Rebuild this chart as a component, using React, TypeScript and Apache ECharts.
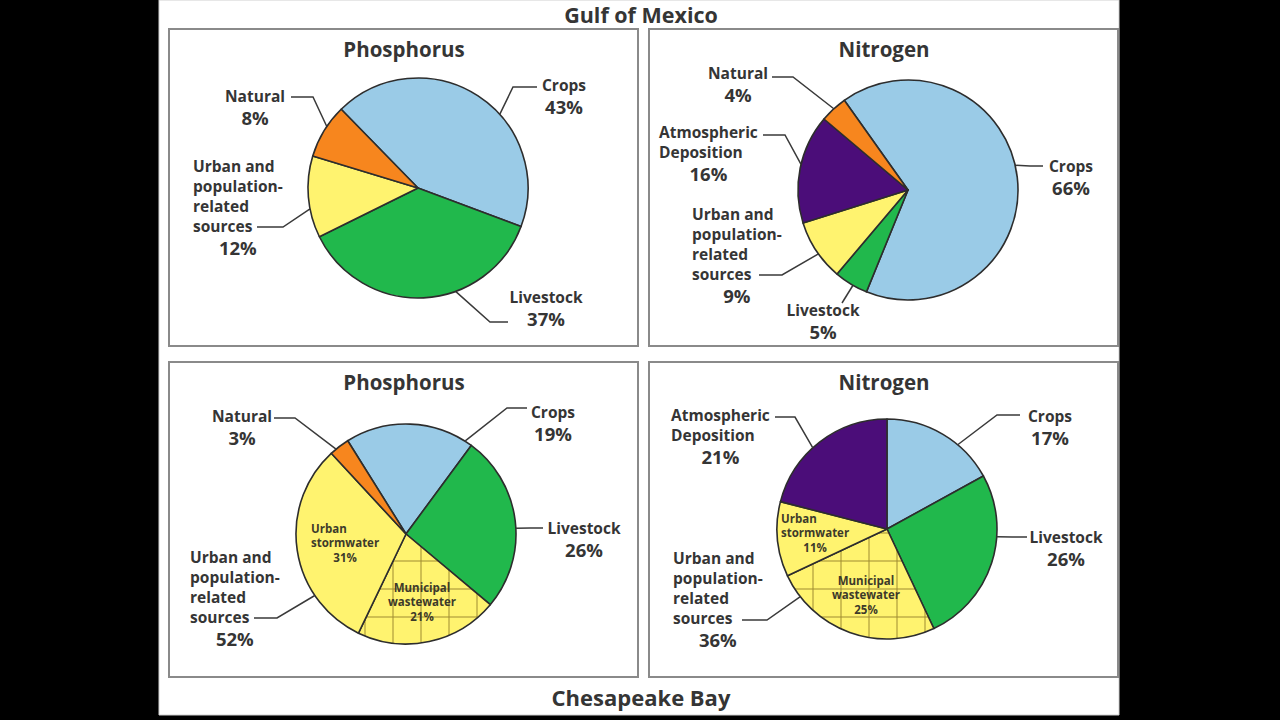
import React, { useEffect, useRef } from "react";
import * as echarts from "echarts";

// ---------- DATA ----------
const gulfPNames = ["Crops", "Livestock", "Urban and\npopulation-\nrelated\nsources", "Natural"];
const gulfPValues = [43, 37, 12, 8];

const gulfNNames = ["Crops", "Livestock", "Urban and\npopulation-\nrelated\nsources", "Atmospheric\nDeposition", "Natural"];
const gulfNValues = [66, 5, 9, 16, 4];

const chesPNames = ["Crops", "Livestock", "Municipal\nwastewater", "Urban\nstormwater", "Natural"];
const chesPValues = [19, 26, 21, 31, 3];
const chesPGroupNames = ["Crops", "Livestock", "Urban and\npopulation-\nrelated\nsources", "Natural"];
const chesPGroupValues = [19, 26, 52, 3];

const chesNNames = ["Crops", "Livestock", "Municipal\nwastewater", "Urban\nstormwater", "Atmospheric\nDeposition"];
const chesNValues = [17, 26, 25, 11, 21];
const chesNGroupNames = ["Crops", "Livestock", "Urban and\npopulation-\nrelated\nsources", "Atmospheric\nDeposition"];
const chesNGroupValues = [17, 26, 36, 21];

const regionTitles = ["Gulf of Mexico", "Chesapeake Bay"];
const panelTitles = ["Phosphorus", "Nitrogen", "Phosphorus", "Nitrogen"];

// ---------- STYLE ----------
const C_CROPS = "#9acbe7";
const C_LIVE = "#21b84c";
const C_URBAN = "#fff36f";
const C_NAT = "#f7861e";
const C_ATM = "#4b0d79";
const TXT = "#353535";
const FONT = "'Open Sans', 'DejaVu Sans', sans-serif";

type Lab = { x: number; y: number; a: "l" | "c"; line?: [number, number[], number[]] };

const pie1 = {
  center: [418, 188], r: 110, start: 134.3,
  labels: [
    { x: 564, y: 75, a: "c", line: [48, [513, 87], [537, 87]] },
    { x: 546, y: 287, a: "c", line: [160, [490, 322], [508, 322]] },
    { x: 193, y: 156, a: "l", line: [259, [283, 227], [257, 227]] },
    { x: 255, y: 86, a: "c", line: [304, [313, 97], [291, 97]] },
  ] as Lab[],
};
const pie2 = {
  center: [908, 190], r: 110, start: 125.4,
  labels: [
    { x: 1071, y: 156, a: "c", line: [77, [1030, 166], [1043, 166]] },
    { x: 823, y: 300, a: "c", line: [210, [842, 303], [842, 303]] },
    { x: 692, y: 204, a: "l", line: [234.5, [782, 275], [759, 275]] },
    { x: 659, y: 122, a: "l", line: [283.5, [785, 135], [763, 135]] },
    { x: 738, y: 63, a: "c", line: [317.6, [793, 77], [772, 77]] },
  ] as Lab[],
};
const pie3 = {
  center: [406, 534], r: 110, start: 122,
  inner: [null, null, { x: 422, y: 580, a: "c" }, { x: 311, y: 521, a: "l" }, null] as (Lab | null)[],
  labels: [
    { x: 553, y: 402, a: "c", line: [32.4, [507, 408], [527, 408]] },
    { x: 584, y: 518, a: "c", line: [87, [530, 528], [543, 528]] },
    { x: 190, y: 547, a: "l", line: [236, [277, 618], [254, 618]] },
    { x: 242, y: 406, a: "c", line: [320.5, [295, 418], [274, 418]] },
  ] as Lab[],
};
const pie4 = {
  center: [887, 529], r: 110, start: 90,
  inner: [null, null, { x: 866, y: 573, a: "c" }, { x: 781, y: 511, a: "l" }, null] as (Lab | null)[],
  labels: [
    { x: 1050, y: 406, a: "c", line: [40, [997, 415], [1020, 415]] },
    { x: 1066, y: 527, a: "c", line: [94, [1012, 537], [1027, 537]] },
    { x: 673, y: 548, a: "l", line: [232, [767, 620], [742, 620]] },
    { x: 671, y: 405, a: "l", line: [317.6, [795, 417], [775, 417]] },
  ] as Lab[],
};

const rich = {
  nl: { fontFamily: FONT, fontSize: 15.5, fontWeight: 700, color: TXT, lineHeight: 20, align: "left" },
  nc: { fontFamily: FONT, fontSize: 15.5, fontWeight: 700, color: TXT, lineHeight: 20, align: "center" },
  p: { fontFamily: FONT, fontSize: 18.5, fontWeight: 700, color: TXT, lineHeight: 22, align: "center" },
  sl: { fontFamily: FONT, fontSize: 11.5, fontWeight: 700, color: "#3d3a2a", lineHeight: 14.5, align: "left" },
  sc: { fontFamily: FONT, fontSize: 11.5, fontWeight: 700, color: "#3d3a2a", lineHeight: 14.5, align: "center" },
};

function outerLabelFormatter(labels: Lab[]) {
  return (p: any) => {
    const L = labels[p.dataIndex];
    const key = L && L.a === "l" ? "nl" : "nc";
    const lines = String(p.name).split("\n").map((s: string) => `{${key}|${s}}`);
    return lines.join("\n") + `\n{p|${p.value}%}`;
  };
}
function innerLabelFormatter(inner: (Lab | null)[]) {
  return (p: any) => {
    const L = inner[p.dataIndex];
    if (!L) return "";
    const key = L.a === "l" ? "sl" : "sc";
    const lines = String(p.name).split("\n").map((s: string) => `{${key}|${s}}`);
    return lines.join("\n") + `\n{sc|${p.value}%}`;
  };
}
function layoutFor(cfg: { center: number[]; r: number }, labels: (Lab | null)[]) {
  return (p: any) => {
    const L = labels[p.dataIndex];
    if (!L) return {};
    const res: any = { x: L.x, y: L.y, align: L.a === "l" ? "left" : "center", verticalAlign: "top" };
    if (L.line) {
      const [ang, e1, e2] = L.line;
      const rad = (ang * Math.PI) / 180;
      const p0 = [cfg.center[0] + cfg.r * Math.sin(rad), cfg.center[1] - cfg.r * Math.cos(rad)];
      res.labelLinePoints = [p0, e1, e2];
    }
    return res;
  };
}

function makeHatch() {
  const s = 28;
  const c = document.createElement("canvas");
  c.width = s;
  c.height = s;
  const g = c.getContext("2d")!;
  g.fillStyle = C_URBAN;
  g.fillRect(0, 0, s, s);
  g.fillStyle = "rgba(160,140,50,0.5)";
  g.fillRect(0, 0, s, 2);
  g.fillRect(0, 0, 2, s);
  return { image: c.toDataURL(), imageWidth: s, imageHeight: s, repeat: "repeat" };
}

const baseSeries = {
  type: "pie",
  clockwise: true,
  avoidLabelOverlap: false,
  silent: true,
  emphasis: { disabled: true },
  itemStyle: { borderColor: "#2d2d2d", borderWidth: 1.6 },
  labelLine: { show: true, smooth: false, lineStyle: { color: "#3a3a3a", width: 1.5 } },
};

export default function App() {
  const ref = useRef<HTMLDivElement>(null);
  useEffect(() => {
    if (!ref.current) return;
    const chart = echarts.init(ref.current, undefined, { renderer: "svg" });
    const hatch = makeHatch();

    const mk = (names: string[], values: number[], colors: any[]) =>
      names.map((n, i) => ({ name: n, value: values[i], itemStyle: { color: colors[i] } }));

    const series: any[] = [
      {
        ...baseSeries,
        center: pie1.center, radius: pie1.r, startAngle: pie1.start,
        data: mk(gulfPNames, gulfPValues, [C_CROPS, C_LIVE, C_URBAN, C_NAT]),
        label: { show: true, position: "outside", formatter: outerLabelFormatter(pie1.labels), rich },
        labelLayout: layoutFor(pie1, pie1.labels),
      },
      {
        ...baseSeries,
        center: pie2.center, radius: pie2.r, startAngle: pie2.start,
        data: mk(gulfNNames, gulfNValues, [C_CROPS, C_LIVE, C_URBAN, C_ATM, C_NAT]),
        label: { show: true, position: "outside", formatter: outerLabelFormatter(pie2.labels), rich },
        labelLayout: layoutFor(pie2, pie2.labels),
      },
      {
        ...baseSeries,
        center: pie3.center, radius: pie3.r, startAngle: pie3.start,
        data: mk(chesPNames, chesPValues, [C_CROPS, C_LIVE, hatch, C_URBAN, C_NAT]),
        label: { show: true, position: "inside", formatter: innerLabelFormatter(pie3.inner), rich },
        labelLine: { show: false },
        labelLayout: layoutFor(pie3, pie3.inner),
      },
      {
        ...baseSeries,
        z: 3,
        center: pie3.center, radius: pie3.r, startAngle: pie3.start,
        data: mk(chesPGroupNames, chesPGroupValues, ["transparent", "transparent", "transparent", "transparent"]),
        itemStyle: { borderWidth: 0 },
        label: { show: true, position: "outside", formatter: outerLabelFormatter(pie3.labels), rich },
        labelLayout: layoutFor(pie3, pie3.labels),
      },
      {
        ...baseSeries,
        center: pie4.center, radius: pie4.r, startAngle: pie4.start,
        data: mk(chesNNames, chesNValues, [C_CROPS, C_LIVE, hatch, C_URBAN, C_ATM]),
        label: { show: true, position: "inside", formatter: innerLabelFormatter(pie4.inner), rich },
        labelLine: { show: false },
        labelLayout: layoutFor(pie4, pie4.inner),
      },
      {
        ...baseSeries,
        z: 3,
        center: pie4.center, radius: pie4.r, startAngle: pie4.start,
        data: mk(chesNGroupNames, chesNGroupValues, ["transparent", "transparent", "transparent", "transparent"]),
        itemStyle: { borderWidth: 0 },
        label: { show: true, position: "outside", formatter: outerLabelFormatter(pie4.labels), rich },
        labelLayout: layoutFor(pie4, pie4.labels),
      },
    ];

    const titleText = (text: string, x: number, y: number, size: number) => ({
      type: "text",
      x, y,
      silent: true,
      style: { text, align: "center", verticalAlign: "middle", fontFamily: FONT, fontSize: size, fontWeight: 700, fill: TXT },
    });
    const panel = (x: number, y: number, w: number, h: number) => ({
      type: "rect",
      silent: true,
      shape: { x, y, width: w, height: h },
      style: { fill: "none", stroke: "#8a8a8a", lineWidth: 2 },
    });

    chart.setOption({
      animation: false,
      backgroundColor: "#000000",
      graphic: [
        { type: "rect", silent: true, z: -10, shape: { x: 159, y: 0, width: 960, height: 715 }, style: { fill: "#ffffff", stroke: "#d0d0d0", lineWidth: 1 } },
        panel(169, 29, 469, 317),
        panel(649, 29, 469, 317),
        panel(169, 362, 469, 315),
        panel(649, 362, 469, 315),
        titleText(regionTitles[0], 641, 14, 21.5),
        titleText(regionTitles[1], 641, 697, 22),
        titleText(panelTitles[0], 404, 49, 20.5),
        titleText(panelTitles[1], 884, 49, 20.5),
        titleText(panelTitles[2], 404, 382, 20.5),
        titleText(panelTitles[3], 884, 382, 20.5),
      ],
      series,
    });
    return () => chart.dispose();
  }, []);
  return <div ref={ref} style={{ position: "fixed", left: 0, top: 0, width: 1280, height: 720 }} />;
}
